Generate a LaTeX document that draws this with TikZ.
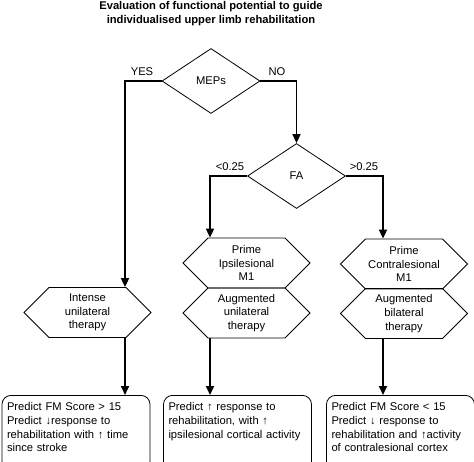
\documentclass[tikz,border=0pt]{standalone}
\usepackage{fontspec}
\setmainfont{Liberation Sans}
\usetikzlibrary{arrows.meta}
\usetikzlibrary{shapes.geometric}
\usetikzlibrary{shapes.symbols}
\tikzset{decision/.style = {draw, diamond, line width = 0.8, inner sep = 0, minimum width = 98, minimum height = 65}}
\tikzset{therapy/.style = {draw, signal, signal to = east and west, signal pointer angle = 90, line width = 0.8, inner sep = 0, minimum width = 127, minimum height = 50, align = center}}
\tikzset{outcome/.style = {draw, rectangle, rounded corners = 9, line width = 0.8, anchor = north, text width = 138pt, inner xsep = 5, inner ysep = 7, text height = 8pt, text depth = 53pt, align = left}}
\tikzset{conn/.style = {line width = 1.8, -{Triangle[length = 9pt, width = 8pt]}}}

\begin{document}
\begin{tikzpicture}[x = 1pt, y = -1pt, font = \fontsize{11.2}{13.8}\selectfont]
      \useasboundingbox (0, 0) rectangle (474, 462);
      \clip (0, 0) rectangle (474, 462);

      \node [font = \bfseries\fontsize{11.2}{13.5}\selectfont, align = center, inner sep = 0] (title) at (211, 13.4) {Evaluation of functional potential to guide\\individualised upper limb rehabilitation};

      \node [decision] (meps) at (211, 81) {MEPs};
      \node [decision] (fa) at (296.5, 176) {FA};

      \node (yes) at (142, 72) {YES};
      \node (no) at (277, 72) {NO};
      \node (low) at (230, 167) {<0.25};
      \node (high) at (364, 167) {>0.25};

      \node [therapy] (intense) at (87.5, 312.5) {Intense\\unilateral\\therapy};
      \node [therapy] (ipsi) at (246.5, 263) {Prime\\Ipsilesional\\M1};
      \node [therapy] (augu) at (246.5, 313) {Augmented\\unilateral\\therapy};
      \node [therapy] (contra) at (404, 264) {Prime\\Contralesional\\M1};
      \node [therapy] (augb) at (404, 313.5) {Augmented\\bilateral\\therapy};

      \node [outcome] (fmhigh) at (76, 395) {Predict FM Score > 15\\Predict ↓response to\\rehabilitation with ↑ time\\since stroke};
      \node [outcome] (ipsiout) at (237.5, 395) {Predict ↑ response to\\rehabilitation, with ↑\\ipsilesional cortical activity};
      \node [outcome] (fmlow) at (400.5, 395) {Predict FM Score < 15\\Predict ↓ response to\\rehabilitation and ↑activity\\of contralesional cortex};

      \draw [conn] (meps.west) -| ([xshift = 37.5pt]intense.north);
      \draw [conn] (meps.east) -| (fa.north);
      \draw [conn] (fa.west) -| ([xshift = -36.5pt]ipsi.north);
      \draw [conn] (fa.east) -| ([xshift = -21pt]contra.north);

      \coordinate (yesdrop) at ([xshift = 37.5pt]intense.south);
      \coordinate (ipsidrop) at ([xshift = -36.5pt]augu.south);
      \coordinate (contradrop) at ([xshift = -21pt]augb.south);
      \foreach \d/\b in {yesdrop/fmhigh, ipsidrop/ipsiout, contradrop/fmlow} {
        \draw [conn] (\d) -- (\d |- \b.north);
      }
    \end{tikzpicture}
\end{document}
